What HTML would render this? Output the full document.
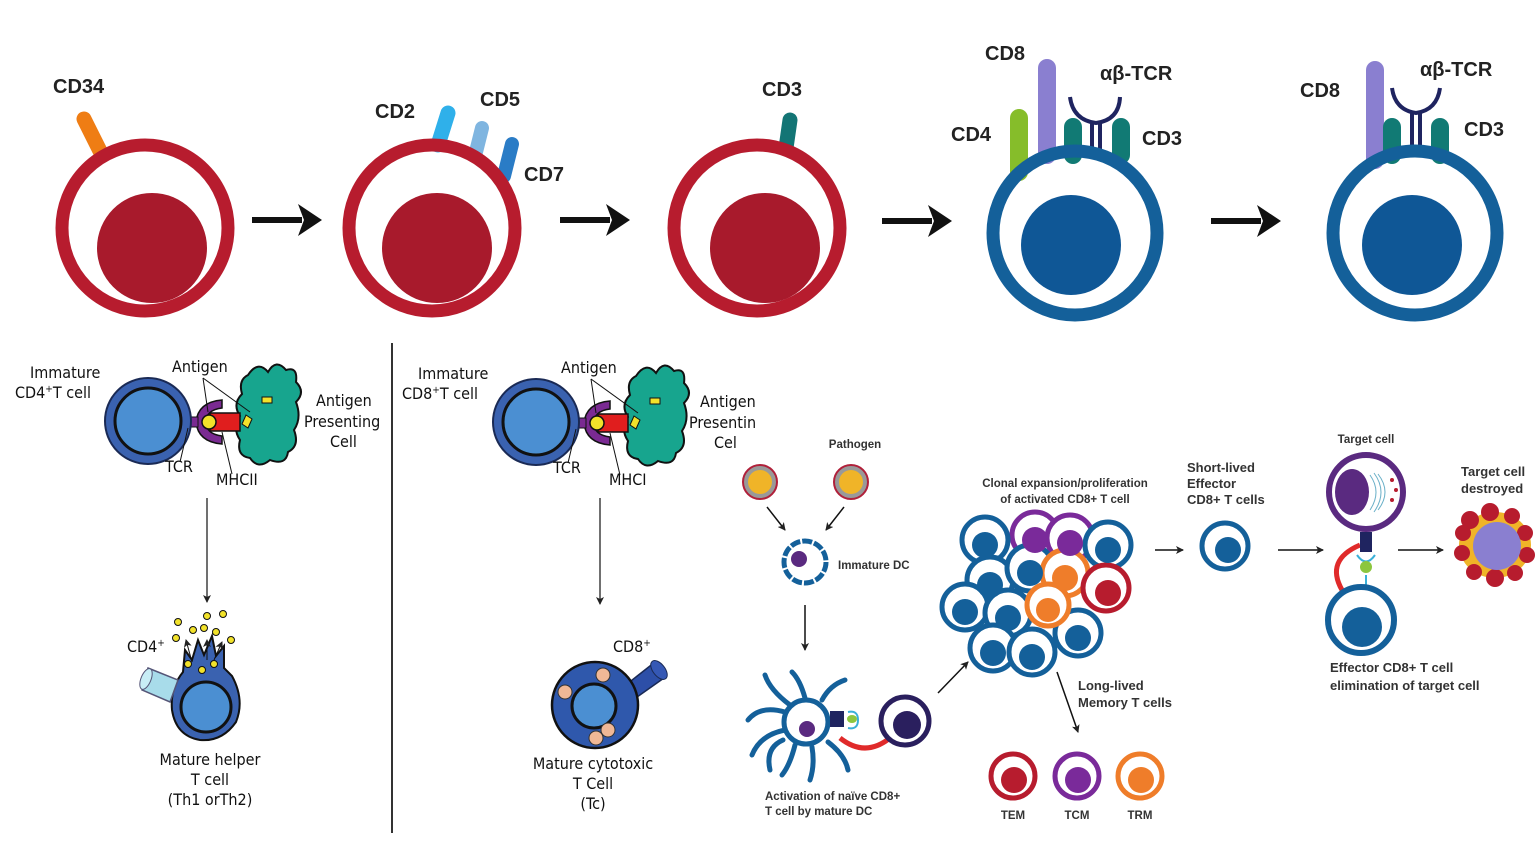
<!DOCTYPE html>
<html><head><meta charset="utf-8"><style>
html,body{margin:0;padding:0;background:#fff;}
svg{display:block;}
.lb{font-family:"Liberation Sans",sans-serif;font-weight:bold;fill:#222;}
.dv{font-family:"DejaVu Sans Condensed","DejaVu Sans","Liberation Sans",sans-serif;fill:#111;}
.sm{font-family:"Liberation Sans",sans-serif;font-weight:bold;fill:#333;font-size:11.5px;}
</style></head><body>
<svg width="1536" height="864" viewBox="0 0 1536 864" xmlns="http://www.w3.org/2000/svg">
<defs>
<marker id="ahs" markerWidth="8" markerHeight="8" refX="7" refY="4" orient="auto" markerUnits="userSpaceOnUse"><path d="M0,0 L8,4 L0,8 L2,4 z" fill="#222"/></marker>
</defs>

<!-- TOP ROW -->
<g stroke-linecap="round">
<line x1="84" y1="119" x2="101" y2="153" stroke="#ef7d14" stroke-width="15"/>
<line x1="448" y1="113" x2="438" y2="145" stroke="#2fb0ea" stroke-width="15"/>
<line x1="482" y1="128" x2="476" y2="152" stroke="#7fb5e0" stroke-width="14"/>
<line x1="512" y1="144" x2="504" y2="176" stroke="#2a7cc6" stroke-width="14"/>
<line x1="790" y1="120" x2="786" y2="148" stroke="#137575" stroke-width="15"/>
</g>
<g fill="none" stroke="#b71c2e" stroke-width="13">
<circle cx="145" cy="228" r="83"/>
<circle cx="432" cy="228" r="83"/>
<circle cx="757" cy="228" r="83"/>
</g>
<g fill="#a81a2c">
<circle cx="152" cy="248" r="55"/>
<circle cx="437" cy="248" r="55"/>
<circle cx="765" cy="248" r="55"/>
</g>

<g stroke-linecap="round">
<line x1="1019" y1="118" x2="1019" y2="172" stroke="#86bd2a" stroke-width="18"/>
<line x1="1047" y1="68" x2="1047" y2="155" stroke="#8a7fd0" stroke-width="18"/>
<line x1="1073" y1="127" x2="1073" y2="155" stroke="#117a74" stroke-width="18"/>
<line x1="1121" y1="127" x2="1121" y2="155" stroke="#117a74" stroke-width="18"/>
<line x1="1375" y1="70" x2="1375" y2="160" stroke="#8a7fd0" stroke-width="18"/>
<line x1="1392" y1="127" x2="1392" y2="155" stroke="#117a74" stroke-width="18"/>
<line x1="1440" y1="127" x2="1440" y2="155" stroke="#117a74" stroke-width="18"/>
</g>
<g fill="none" stroke="#1f2460" stroke-width="4">
<path d="M1070,97 Q1073,120 1096,123 Q1119,120 1120,97"/>
<line x1="1092" y1="122" x2="1092" y2="150"/><line x1="1100" y1="122" x2="1100" y2="150"/>
<path d="M1392,88 Q1395,110 1416,113 Q1437,110 1440,88"/>
<line x1="1412" y1="112" x2="1412" y2="150"/><line x1="1420" y1="112" x2="1420" y2="150"/>
</g>
<g fill="none" stroke="#14609a" stroke-width="13">
<circle cx="1075" cy="233" r="82"/>
<circle cx="1415" cy="233" r="82"/>
</g>
<g fill="#0f5796">
<circle cx="1071" cy="245" r="50"/>
<circle cx="1412" cy="245" r="50"/>
</g>

<g fill="#111">
<rect x="252" y="217" width="50" height="6"/><path d="M298,204 L322,220 L298,236 L304,220 z"/>
<rect x="560" y="217" width="50" height="6"/><path d="M606,204 L630,220 L606,236 L612,220 z"/>
<rect x="882" y="218" width="50" height="6"/><path d="M928,205 L952,221 L928,237 L934,221 z"/>
<rect x="1211" y="218" width="50" height="6"/><path d="M1257,205 L1281,221 L1257,237 L1263,221 z"/>
</g>

<g class="lb" font-size="20">
<text x="53" y="93">CD34</text>
<text x="375" y="118">CD2</text>
<text x="480" y="106">CD5</text>
<text x="524" y="181">CD7</text>
<text x="762" y="96">CD3</text>
<text x="985" y="60">CD8</text>
<text x="1100" y="80">αβ-TCR</text>
<text x="951" y="141">CD4</text>
<text x="1142" y="145">CD3</text>
<text x="1300" y="97">CD8</text>
<text x="1420" y="76">αβ-TCR</text>
<text x="1464" y="136">CD3</text>
</g>

<line x1="392" y1="343" x2="392" y2="833" stroke="#333" stroke-width="2"/>

<g id="p1">
<path d="M248,375 Q258,360 268,372 Q276,358 286,370 Q298,366 296,382 Q306,392 296,402 Q302,418 294,430 Q300,446 288,452 Q286,466 270,460 Q258,470 250,458 Q236,456 240,440 Q232,428 240,416 Q232,404 242,394 Q238,380 248,375 z" fill="#17a58e" stroke="#111" stroke-width="2"/>
<rect x="262" y="397" width="10" height="6" fill="#f2e22a" stroke="#111" stroke-width="1"/>
<path d="M246,415 l6,4 l-4,9 l-6,-4 z" fill="#f2e22a" stroke="#111" stroke-width="1"/>
<rect x="210" y="413" width="30" height="18" fill="#e01e1e" stroke="#111" stroke-width="1.5"/>
<path d="M222,400 Q198,402 196,422 Q198,442 222,444 L222,436 Q206,434 206,422 Q206,410 222,408 z" fill="#7a2a92" stroke="#111" stroke-width="1.5"/>
<rect x="186" y="417" width="12" height="10" fill="#7a2a92" stroke="#111" stroke-width="1"/>
<circle cx="209" cy="422" r="7" fill="#f2e22a" stroke="#111" stroke-width="1.5"/>
<circle cx="148" cy="421" r="43" fill="#3a62b0" stroke="#1a2a55" stroke-width="2"/>
<circle cx="148" cy="421" r="33" fill="#4b8fd2" stroke="#111" stroke-width="3"/>
<g stroke="#111" stroke-width="1" fill="none">
<line x1="203" y1="378" x2="208" y2="412"/><line x1="203" y1="378" x2="250" y2="412"/>
<line x1="180" y1="462" x2="188" y2="428"/><line x1="232" y1="474" x2="222" y2="432"/>
</g>
</g>
<g id="p2" transform="translate(388,1)">
<path d="M248,375 Q258,360 268,372 Q276,358 286,370 Q298,366 296,382 Q306,392 296,402 Q302,418 294,430 Q300,446 288,452 Q286,466 270,460 Q258,470 250,458 Q236,456 240,440 Q232,428 240,416 Q232,404 242,394 Q238,380 248,375 z" fill="#17a58e" stroke="#111" stroke-width="2"/>
<rect x="262" y="397" width="10" height="6" fill="#f2e22a" stroke="#111" stroke-width="1"/>
<path d="M246,415 l6,4 l-4,9 l-6,-4 z" fill="#f2e22a" stroke="#111" stroke-width="1"/>
<rect x="210" y="413" width="30" height="18" fill="#e01e1e" stroke="#111" stroke-width="1.5"/>
<path d="M222,400 Q198,402 196,422 Q198,442 222,444 L222,436 Q206,434 206,422 Q206,410 222,408 z" fill="#7a2a92" stroke="#111" stroke-width="1.5"/>
<rect x="186" y="417" width="12" height="10" fill="#7a2a92" stroke="#111" stroke-width="1"/>
<circle cx="209" cy="422" r="7" fill="#f2e22a" stroke="#111" stroke-width="1.5"/>
<circle cx="148" cy="421" r="43" fill="#3a62b0" stroke="#1a2a55" stroke-width="2"/>
<circle cx="148" cy="421" r="33" fill="#4b8fd2" stroke="#111" stroke-width="3"/>
<g stroke="#111" stroke-width="1" fill="none">
<line x1="203" y1="378" x2="208" y2="412"/><line x1="203" y1="378" x2="250" y2="412"/>
<line x1="180" y1="462" x2="188" y2="428"/><line x1="232" y1="474" x2="222" y2="432"/>
</g>
</g>
<rect x="770" y="380" width="30" height="80" fill="#fff"/>

<g stroke="#111" stroke-width="1.2" marker-end="url(#ahs)">
<line x1="207" y1="498" x2="207" y2="602"/>
<line x1="600" y1="498" x2="600" y2="604"/>
</g>

<path d="M183,672 L185,650 L192,660 L198,640 L204,655 L212,636 L216,656 L224,646 L224,668 L232,676 Q245,700 236,722 Q222,742 200,740 Q176,736 172,710 Q170,688 183,672 z" fill="#3a62b0" stroke="#111" stroke-width="2"/>
<path d="M148,668 L178,680 L170,702 L142,690 z" fill="#a8dcea" stroke="#557" stroke-width="1.5"/>
<ellipse cx="146" cy="679" rx="5" ry="11" fill="#c8eef6" stroke="#557" stroke-width="1" transform="rotate(22 146 679)"/>
<circle cx="206" cy="707" r="25" fill="#4b8fd2" stroke="#111" stroke-width="3"/>
<g fill="#f2e22a" stroke="#111" stroke-width="1">
<circle cx="178" cy="622" r="3.5"/><circle cx="193" cy="630" r="3.5"/><circle cx="207" cy="616" r="3.5"/><circle cx="223" cy="614" r="3.5"/><circle cx="204" cy="628" r="3.5"/><circle cx="216" cy="632" r="3.5"/><circle cx="176" cy="638" r="3.5"/><circle cx="231" cy="640" r="3.5"/><circle cx="188" cy="664" r="3.5"/><circle cx="202" cy="670" r="3.5"/><circle cx="214" cy="664" r="3.5"/>
</g>
<g stroke="#111" stroke-width="1" marker-end="url(#ahs)"><line x1="192" y1="662" x2="186" y2="640"/><line x1="207" y1="660" x2="207" y2="640"/><line x1="214" y1="660" x2="222" y2="642"/></g>

<path d="M622,688 L655,662 L664,678 L630,702 z" fill="#2d4fa8" stroke="#1a2a55" stroke-width="1.5"/>
<ellipse cx="659" cy="670" rx="6" ry="11" fill="#3558b5" stroke="#1a2a55" stroke-width="1" transform="rotate(-38 659 670)"/>
<circle cx="595" cy="705" r="43" fill="#2f58ac" stroke="#111" stroke-width="2.5"/>
<circle cx="594" cy="706" r="22" fill="#4b8fd2" stroke="#111" stroke-width="3"/>
<g fill="#f0b896" stroke="#333" stroke-width="1">
<circle cx="603" cy="675" r="7"/><circle cx="565" cy="692" r="7"/><circle cx="608" cy="730" r="7"/><circle cx="596" cy="738" r="7"/>
</g>

<g class="dv" font-size="16">
<text x="30" y="378">Immature</text>
<text x="15" y="398">CD4<tspan font-size="10" dy="-6">+</tspan><tspan dy="6">T cell</tspan></text>
<text x="172" y="372">Antigen</text>
<text x="316" y="406">Antigen</text>
<text x="304" y="427">Presenting</text>
<text x="330" y="447">Cell</text>
<text x="165" y="472">TCR</text>
<text x="216" y="485">MHCII</text>
<text x="418" y="379">Immature</text>
<text x="402" y="399">CD8<tspan font-size="10" dy="-6">+</tspan><tspan dy="6">T cell</tspan></text>
<text x="561" y="373">Antigen</text>
<text x="700" y="407">Antigen</text>
<text x="689" y="428">Presentin</text>
<text x="714" y="448">Cel</text>
<text x="553" y="473">TCR</text>
<text x="609" y="485">MHCI</text>
<text x="127" y="652">CD4<tspan font-size="10" dy="-6">+</tspan></text>
<text x="613" y="652">CD8<tspan font-size="10" dy="-6">+</tspan></text>
<text x="210" y="765" text-anchor="middle">Mature helper</text>
<text x="210" y="785" text-anchor="middle">T cell</text>
<text x="210" y="805" text-anchor="middle">(Th1 orTh2)</text>
<text x="593" y="769" text-anchor="middle">Mature cytotoxic</text>
<text x="593" y="789" text-anchor="middle">T Cell</text>
<text x="593" y="809" text-anchor="middle">(Tc)</text>
</g>

<g>
<circle cx="760" cy="482" r="17" fill="#999" stroke="#b0203a" stroke-width="2"/>
<circle cx="760" cy="482" r="12" fill="#f0b428"/>
<circle cx="851" cy="482" r="17" fill="#999" stroke="#b0203a" stroke-width="2"/>
<circle cx="851" cy="482" r="12" fill="#f0b428"/>
</g>
<g stroke="#111" stroke-width="1.5" marker-end="url(#ahs)">
<line x1="767" y1="507" x2="785" y2="530"/>
<line x1="844" y1="507" x2="826" y2="530"/>
<line x1="805" y1="605" x2="805" y2="650"/>
<line x1="938" y1="693" x2="968" y2="662"/>
<line x1="1155" y1="550" x2="1183" y2="550"/>
<line x1="1278" y1="550" x2="1323" y2="550"/>
<line x1="1398" y1="550" x2="1443" y2="550"/>
<line x1="1057" y1="672" x2="1078" y2="732"/>
</g>
<circle cx="805" cy="562" r="21" fill="#fff" stroke="#14609a" stroke-width="5" stroke-dasharray="10 2"/>
<circle cx="799" cy="559" r="8" fill="#5a2a80"/>

<g stroke="#14609a" stroke-width="5" fill="none" stroke-linecap="round">
<path d="M790,705 Q770,690 765,675"/><path d="M785,712 Q760,705 748,720"/><path d="M785,730 Q760,735 752,755"/>
<path d="M795,745 Q790,765 782,775"/><path d="M812,747 Q815,765 810,780"/><path d="M822,700 Q830,685 845,680"/>
<path d="M805,698 Q800,680 792,672"/><path d="M828,742 Q845,755 848,770"/><path d="M783,740 Q765,748 770,770"/>
</g>
<circle cx="806" cy="722" r="22" fill="#fff" stroke="#14609a" stroke-width="5"/>
<circle cx="807" cy="729" r="8" fill="#5a2a80"/>
<path d="M840,738 Q865,758 890,738" stroke="#e02a2a" stroke-width="5" fill="none"/>
<rect x="830" y="711" width="14" height="16" fill="#1f2460"/>
<path d="M848,712 Q858,710 858,720 Q858,730 848,728" stroke="#3ab0d8" stroke-width="2" fill="none"/>
<ellipse cx="852" cy="719" rx="5" ry="4" fill="#8cc63f"/>
<circle cx="905" cy="721" r="24" fill="#fff" stroke="#2a1f5e" stroke-width="5"/>
<circle cx="907" cy="725" r="14" fill="#2a1f5e"/>

<g stroke-width="5" fill="#fff">
<g stroke="#7a2a9a"><circle cx="1035" cy="535" r="23"/><circle cx="1070" cy="538" r="23"/></g>
<g stroke="#14609a"><circle cx="985" cy="540" r="23"/><circle cx="1108" cy="545" r="23"/><circle cx="990" cy="580" r="23"/><circle cx="1030" cy="568" r="23"/><circle cx="965" cy="607" r="23"/><circle cx="1008" cy="613" r="23"/><circle cx="1078" cy="633" r="23"/><circle cx="993" cy="648" r="23"/><circle cx="1032" cy="652" r="23"/></g>
<g stroke="#ef7d2a"><circle cx="1065" cy="573" r="23"/><circle cx="1048" cy="605" r="21"/></g>
<g stroke="#b71c2e"><circle cx="1106" cy="588" r="23"/></g>
</g>
<g fill="#14609a">
<circle cx="985" cy="545" r="13"/><circle cx="1108" cy="550" r="13"/><circle cx="990" cy="585" r="13"/><circle cx="1030" cy="573" r="13"/><circle cx="965" cy="612" r="13"/><circle cx="1008" cy="618" r="13"/><circle cx="1078" cy="638" r="13"/><circle cx="993" cy="653" r="13"/><circle cx="1032" cy="657" r="13"/>
</g>
<circle cx="1035" cy="540" r="13" fill="#7a2a9a"/><circle cx="1070" cy="543" r="13" fill="#7a2a9a"/>
<circle cx="1065" cy="578" r="13" fill="#ef7d2a"/><circle cx="1048" cy="610" r="12" fill="#ef7d2a"/>
<circle cx="1108" cy="593" r="13" fill="#b71c2e"/>

<circle cx="1225" cy="546" r="23" fill="#fff" stroke="#14609a" stroke-width="5"/>
<circle cx="1228" cy="550" r="13" fill="#14609a"/>

<path d="M1342,590 Q1325,560 1360,545" stroke="#e02a2a" stroke-width="5" fill="none"/>
<circle cx="1366" cy="492" r="37" fill="#fff" stroke="#5a2a80" stroke-width="6"/>
<ellipse cx="1352" cy="492" rx="17" ry="23" fill="#5a2a80"/>
<g stroke="#6ab0c8" stroke-width="1" fill="none"><path d="M1370,475 Q1382,492 1370,510"/><path d="M1374,473 Q1388,492 1374,512"/><path d="M1378,474 Q1392,492 1378,510"/></g>
<g fill="#b71c2e"><circle cx="1392" cy="480" r="2"/><circle cx="1396" cy="490" r="2"/><circle cx="1392" cy="500" r="2"/></g>
<rect x="1360" y="532" width="12" height="20" fill="#1f2460"/>
<path d="M1357,555 Q1366,568 1375,555" stroke="#3ab0d8" stroke-width="2" fill="none"/>
<ellipse cx="1366" cy="567" rx="6" ry="6" fill="#8cc63f"/>
<line x1="1366" y1="575" x2="1366" y2="590" stroke="#3ab0d8" stroke-width="2"/>
<circle cx="1361" cy="620" r="33" fill="#fff" stroke="#14609a" stroke-width="6"/>
<circle cx="1362" cy="627" r="20" fill="#14609a"/>

<ellipse cx="1495" cy="545" rx="36" ry="33" fill="#f0b428"/>
<g fill="#b71c2e">
<circle cx="1470" cy="520" r="9"/><circle cx="1490" cy="512" r="9"/><circle cx="1512" cy="516" r="8"/><circle cx="1525" cy="533" r="8"/><circle cx="1527" cy="555" r="8"/><circle cx="1515" cy="573" r="8"/><circle cx="1495" cy="578" r="9"/><circle cx="1474" cy="572" r="8"/><circle cx="1462" cy="553" r="8"/><circle cx="1463" cy="533" r="8"/>
</g>
<ellipse cx="1497" cy="546" rx="24" ry="24" fill="#8a7fd0"/>

<circle cx="1013" cy="776" r="22" fill="#fff" stroke="#b71c2e" stroke-width="5"/><circle cx="1014" cy="780" r="13" fill="#b71c2e"/>
<circle cx="1077" cy="776" r="22" fill="#fff" stroke="#7a2a9a" stroke-width="5"/><circle cx="1078" cy="780" r="13" fill="#7a2a9a"/>
<circle cx="1140" cy="776" r="22" fill="#fff" stroke="#ef7d2a" stroke-width="5"/><circle cx="1141" cy="780" r="13" fill="#ef7d2a"/>

<g class="sm">
<text x="855" y="448" text-anchor="middle">Pathogen</text>
<text x="838" y="569">Immature DC</text>
<text x="765" y="800">Activation of naïve CD8+</text>
<text x="765" y="815">T cell by mature DC</text>
<text x="1065" y="487" text-anchor="middle">Clonal expansion/proliferation</text>
<text x="1065" y="503" text-anchor="middle">of activated CD8+ T cell</text>
<text x="1366" y="443" text-anchor="middle">Target cell</text>
<text x="1013" y="819" text-anchor="middle">TEM</text>
<text x="1077" y="819" text-anchor="middle">TCM</text>
<text x="1140" y="819" text-anchor="middle">TRM</text>
</g>
<g class="sm">
<text x="1187" y="472" font-size="13">Short-lived</text>
<text x="1187" y="488" font-size="13">Effector</text>
<text x="1187" y="504" font-size="13">CD8+ T cells</text>
<text x="1461" y="476" font-size="13">Target cell</text>
<text x="1461" y="493" font-size="13">destroyed</text>
<text x="1078" y="690" font-size="13">Long-lived</text>
<text x="1078" y="707" font-size="13">Memory T cells</text>
<text x="1330" y="672" font-size="13">Effector CD8+ T cell</text>
<text x="1330" y="690" font-size="13">elimination of target cell</text>
</g>
</svg>
</body></html>
